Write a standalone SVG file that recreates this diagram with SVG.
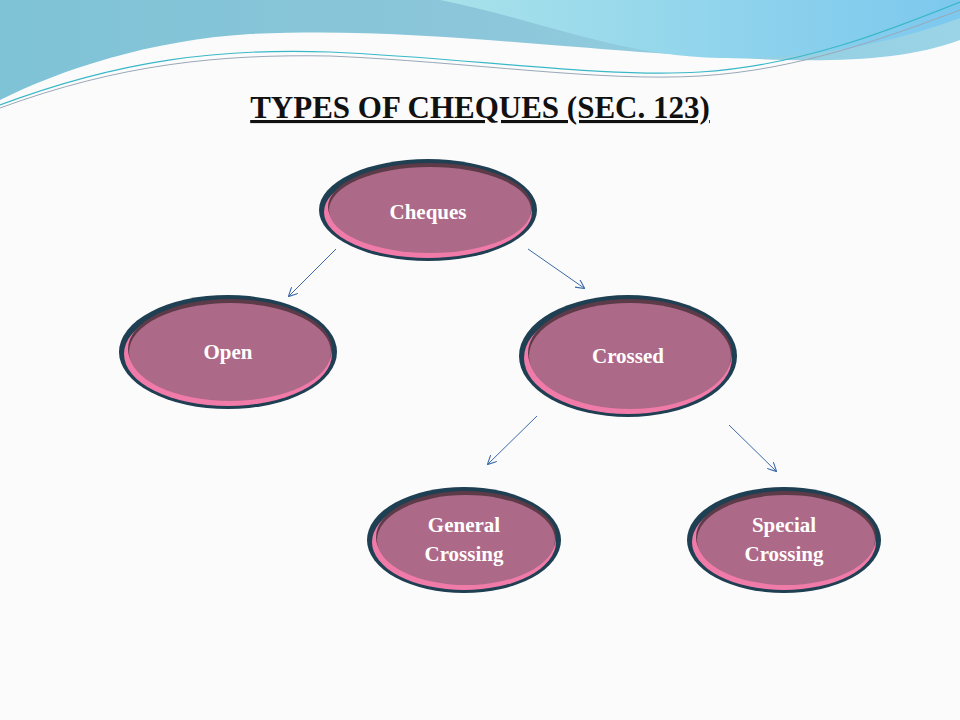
<svg xmlns="http://www.w3.org/2000/svg" width="960" height="720" viewBox="0 0 960 720">
<defs>
<linearGradient id="bg1" x1="0" y1="0" x2="1" y2="0"><stop offset="0" stop-color="#7fc3d6"/><stop offset="0.5" stop-color="#8cc6da"/><stop offset="1" stop-color="#9ad4e6"/></linearGradient>
<linearGradient id="bg2" x1="0" y1="0" x2="1" y2="0"><stop offset="0" stop-color="#a8e2ea"/><stop offset="1" stop-color="#7cc8ee"/></linearGradient>
<marker id="ah" viewBox="0 0 10 10" refX="9" refY="5" markerWidth="9" markerHeight="9" orient="auto" markerUnits="userSpaceOnUse"><path d="M0,0 L10,5 L0,10" fill="none" stroke="#3a6aa8" stroke-width="1.2"/></marker>
</defs>
<style>
.node .o{fill:#1f3f52}
.node .p{fill:#f07aa8}
.node .s{fill:#5c3a48}
.node .m{fill:#ad6a88}
.node text{font-family:"Liberation Serif",serif;font-weight:bold;font-size:21px;fill:#fff;text-anchor:middle}
.conn line{stroke:#3a6aa8;stroke-width:1;marker-end:url(#ah)}
</style>
<rect width="960" height="720" fill="#fbfbfb"/>
<path d="M0,0 H960 V40 C880,70 760,60 640,52 C480,40 380,28 250,34 C150,40 60,70 0,100 Z" fill="url(#bg1)"/>
<path d="M440,0 H960 V18 C900,40 820,60 720,58 C620,56 540,20 440,0 Z" fill="url(#bg2)"/>
<path d="M230,0 C330,10 420,18 480,0 Z" fill="#ffffff" opacity="0"/>
<path d="M0,105 C120,60 220,48 330,52 C470,58 600,78 700,72 C800,66 890,30 960,2" fill="none" stroke="#3ab8c8" stroke-width="1.2"/>
<path d="M0,108 C120,64 220,54 330,56 C470,62 600,82 700,76 C800,70 890,36 960,10" fill="none" stroke="#9aa8b8" stroke-width="1"/>
<text x="480" y="118" font-family="Liberation Serif,serif" font-weight="bold" font-size="31" text-anchor="middle" fill="#111" text-decoration="underline">TYPES OF CHEQUES (SEC. 123)</text>
<g class="conn">
<line x1="336" y1="249" x2="289" y2="296"/>
<line x1="528" y1="249" x2="584" y2="288"/>
<line x1="537" y1="416" x2="488" y2="464"/>
<line x1="729" y1="425" x2="776" y2="471"/>
</g>
<g class="node" id="cheques"><ellipse class="o" cx="428" cy="210" rx="109" ry="51"/><ellipse class="p" cx="428" cy="212" rx="104" ry="46"/><ellipse class="s" cx="430" cy="207" rx="102" ry="44"/><ellipse class="m" cx="430" cy="210" rx="101" ry="43"/><text x="428" y="219">Cheques</text></g>
<g class="node" id="open"><ellipse class="o" cx="228" cy="352" rx="109" ry="57"/><ellipse class="p" cx="228" cy="354" rx="104" ry="52"/><ellipse class="s" cx="230" cy="349" rx="102" ry="50"/><ellipse class="m" cx="230" cy="352" rx="101" ry="49"/><text x="228" y="359">Open</text></g>
<g class="node" id="crossed"><ellipse class="o" cx="628" cy="356" rx="109" ry="61"/><ellipse class="p" cx="628" cy="358" rx="104" ry="56"/><ellipse class="s" cx="630" cy="353" rx="102" ry="54"/><ellipse class="m" cx="630" cy="356" rx="101" ry="53"/><text x="628" y="363">Crossed</text></g>
<g class="node" id="general"><ellipse class="o" cx="464" cy="540" rx="97" ry="53"/><ellipse class="p" cx="464" cy="542" rx="92" ry="48"/><ellipse class="s" cx="466" cy="537" rx="90" ry="46"/><ellipse class="m" cx="466" cy="540" rx="89" ry="45"/><text x="464" y="532">General</text><text x="464" y="561">Crossing</text></g>
<g class="node" id="special"><ellipse class="o" cx="784" cy="540" rx="97" ry="53"/><ellipse class="p" cx="784" cy="542" rx="92" ry="48"/><ellipse class="s" cx="786" cy="537" rx="90" ry="46"/><ellipse class="m" cx="786" cy="540" rx="89" ry="45"/><text x="784" y="532">Special</text><text x="784" y="561">Crossing</text></g>
</svg>
